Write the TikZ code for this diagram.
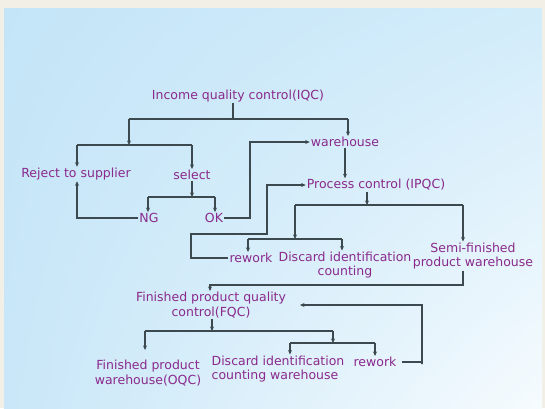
\documentclass[tikz,border=0pt]{standalone}
\usepackage{fontspec}
\setmainfont{DejaVu Sans}
\usetikzlibrary{arrows.meta,shadings}
\definecolor{txt}{HTML}{8A2A8C}
\definecolor{ln}{HTML}{3C4A50}
\definecolor{frame}{HTML}{F2F0E6}
\definecolor{bgA}{HTML}{C4E5F8}
\definecolor{bgB}{HTML}{D2ECFA}
\definecolor{bgC}{HTML}{C9E7F8}
\definecolor{bgD}{HTML}{F6FBFE}
\begin{document}
\begin{tikzpicture}[x=1pt,y=-1pt,
  lbl/.style={text=txt, font=\fontsize{12.5}{14.5}\selectfont, inner sep=1pt, align=center},
  conn/.style={draw=ln, line width=1.2pt},
  arr/.style={conn, -{Stealth[length=4.5pt,width=4pt]}}]
% background
\fill[frame] (0,0) rectangle (545,408);
\shade[upper left=bgA, upper right=bgB, lower left=bgC, lower right=bgD] (4,8) rectangle (542,408);
\useasboundingbox (0,0) rectangle (545,408);

% nodes
\node[lbl] (iqc) at (238,96) {Income quality control(IQC)};
\node[lbl] (rej) at (76,174) {Reject to supplier};
\node[lbl] (sel) at (192,175) {select};
\node[lbl] (ng) at (149,218) {NG};
\node[lbl] (ok) at (214,218) {OK};
\node[lbl] (wh) at (345,142) {warehouse};
\node[lbl] (ipqc) at (376,185) {Process control (IPQC)};
\node[lbl] (rw1) at (251,258) {rework};
\node[lbl] (disc1) at (345,265) {Discard identification\\counting};
\node[lbl] (semi) at (473,256) {Semi-finished\\product warehouse};
\node[lbl] (fqc) at (211,305) {Finished product quality\\control(FQC)};
\node[lbl] (fpw) at (148,373) {Finished product\\warehouse(OQC)};
\node[lbl, align=left] (disc2) at (278,369) {Discard identification\\counting warehouse};
\node[lbl] (rw2) at (375,362) {rework};

% junction coordinates
\coordinate (a1) at (233,119);
\coordinate (a2) at (129,119);
\coordinate (a3) at (348,119);
\coordinate (b1) at (129,145);
\coordinate (b2) at (77,145);
\coordinate (b3) at (192,145);
\coordinate (c1) at (192,197);
\coordinate (c2) at (148,197);
\coordinate (c3) at (215,197);
\coordinate (d1) at (250,142);
\coordinate (e1) at (191,234);
\coordinate (e2) at (267,234);
\coordinate (f1) at (367,205);
\coordinate (f2) at (295,205);
\coordinate (f3) at (463,205);
\coordinate (g1) at (295,239);
\coordinate (g2) at (248,239);
\coordinate (g3) at (342,239);
\coordinate (h1) at (463,285);
\coordinate (h2) at (210,285);
\coordinate (i1) at (212,331);
\coordinate (i2) at (145,331);
\coordinate (i3) at (333,331);
\coordinate (j1) at (333,343);
\coordinate (j2) at (290,343);
\coordinate (j3) at (375,343);
\coordinate (k1) at (422,364);
\coordinate (k2) at (300,305);

% IQC branch
\draw[conn] (iqc.south -| a1) -- (a1);
\draw[conn] (a2) -- (a3);
\draw[arr] (a3) -- (wh.north -| a3);
\draw[arr] (a2) -- (b1);
\draw[conn] (b2) -- (b3);
\draw[arr] (b2) -- (rej.north -| b2);
\draw[arr] (b3) -- (sel.north);
% select branch
\draw[arr] (sel.south) -- (c1);
\draw[conn] (c2) -- (c3);
\draw[arr] (c2) -- (ng.north -| c2);
\draw[arr] (c3) -- (ok.north -| c3);
\draw[arr] (ng.west) -| (rej.south -| b2);
\draw[arr] (ok.east) -| (d1) -- (wh.west);
% warehouse to IPQC
\draw[arr] (wh.south) -- (ipqc.north -| wh.south);
% rework loop to IPQC
\draw[arr] (rw1.west) -| (e1) -- (e2) |- (ipqc.west);
% IPQC branch
\draw[arr] (ipqc.south -| f1) -- (f1);
\draw[conn] (f2) -- (f3);
\draw[arr] (f3) -- (semi.north -| f3);
\draw[arr] (f2) -- (g1);
\draw[conn] (g2) -- (g3);
\draw[arr] (g2) -- (rw1.north -| g2);
\draw[arr] (g3) -- (disc1.north -| g3);
% semi to FQC
\draw[arr] (semi.south -| h1) -- (h1) -- (h2) -- (fqc.north -| h2);
% FQC branch
\draw[arr] (fqc.south -| i1) -- (i1);
\draw[conn] (i2) -- (i3);
\draw[arr] (i2) -- (145,350);
\draw[arr] (i3) -- (j1);
\draw[conn] (j2) -- (j3);
\draw[arr] (j2) -- (disc2.north -| j2);
\draw[arr] (j3) -- (rw2.north);
% rework back to FQC
\draw[arr] ([xshift=4pt]rw2.east) -| (k1) |- (k2);
\end{tikzpicture}
\end{document}
